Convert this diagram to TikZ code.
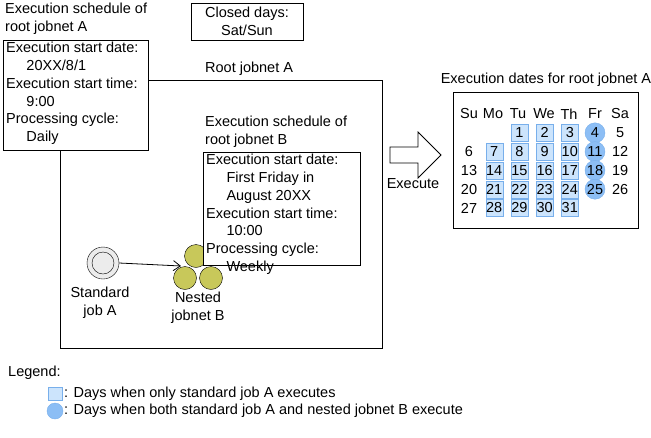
\documentclass[tikz,border=0pt]{standalone}
\usepackage{fontspec}
\setmainfont{Liberation Sans}
\usetikzlibrary{arrows.meta}
\definecolor{sq}{RGB}{204,228,252}
\definecolor{sqd}{RGB}{120,175,235}
\definecolor{ci}{RGB}{140,190,245}
\definecolor{yel}{RGB}{200,200,90}
\begin{document}
\begin{tikzpicture}[x=1pt,y=-1pt,
  txt/.style={font=\fontsize{14.5}{17.8}\selectfont,inner sep=0pt,align=left},
  box/.style={draw,fill=white,line width=0.8pt},
  day/.style={font=\fontsize{14.5}{16}\selectfont,inner sep=0pt},
  sqr/.style={draw=sqd,fill=sq,minimum width=17pt,minimum height=17pt,inner sep=0pt,font=\fontsize{14.5}{16}\selectfont},
  crc/.style={circle,draw=sqd,fill=ci,minimum size=20pt,inner sep=0pt,font=\fontsize{14.5}{16}\selectfont},
  jb/.style={circle,draw,fill=yel,minimum size=23pt,inner sep=0pt}]
\useasboundingbox (0,0) rectangle (651,437);
% schedule A
\node[txt,anchor=north west] (tA) at (5,3) {Execution schedule of\\root jobnet A};
\draw[box] (3,40) rectangle (148,150);
\node[txt,anchor=north west] (sA) at (6,42) {Execution start date:\\\hspace*{1.4em}20XX/8/1\\Execution start time:\\\hspace*{1.4em}9:00\\Processing cycle:\\\hspace*{1.4em}Daily};
% closed days
\draw[box] (191,3) rectangle (303,40);
\node[txt,align=center] (cd) at (247,21) {Closed days:\\Sat/Sun};
% root jobnet A
\node[txt,anchor=south west] (rA) at (205,76) {Root jobnet A};
\draw[line width=0.8pt] (60,150) -- (60,348) -- (382,348) -- (382,80) -- (148,80);
% jobs
\node[circle,draw,fill=gray!15,minimum size=32pt,inner sep=0pt] (ja) at (103,263) {};
\node[circle,draw,minimum size=22pt,inner sep=0pt] at (ja) {};
\node[txt,align=center,anchor=north] (jal) at (100,287) {Standard\\job A};
\node[jb] (b1) at (196,256) {};
\node[jb] (b2) at (185,278) {};
\node[jb] (b3) at (211,278) {};
\coordinate (ae) at (181,266);
\draw[line width=0.8pt,-{Straight Barb[length=7pt,width=10pt]}] (ja.east) -- (ae);
\node[txt,align=center,anchor=north] (jbl) at (198,292) {Nested\\jobnet B};
% schedule B
\node[txt,anchor=north west] (tB) at (205,116) {Execution schedule of\\root jobnet B};
\draw[box] (203,152) rectangle (360,265);
\node[txt,anchor=north west] (sB) at (206,154) {Execution start date:\\\hspace*{1.4em}First Friday in\\\hspace*{1.4em}August 20XX\\Execution start time:\\\hspace*{1.4em}10:00\\Processing cycle:\\\hspace*{1.4em}Weekly};
% execute arrow
\draw[line width=0.8pt,fill=white] (390,147) -- (418,147) -- (418,132) -- (441,155) -- (418,178) -- (418,163) -- (390,163) -- cycle;
\node[txt] (ex) at (413,184) {Execute};
% calendar
\node[txt,anchor=south] (cal) at (546,87) {Execution dates for root jobnet A};
\draw[line width=0.8pt] (453,92) rectangle (638,228);
\foreach \n/\x in {Su/469,Mo/493,Tu/518,We/544,Th/569,Fr/595,Sa/620}
  \node[day] at (\x,114) {\n};
\foreach \d/\c/\r in {5/6/1,6/0/2,12/6/2,13/0/3,19/6/3,20/0/4,26/6/4,27/0/5}
  \node[day] at ({469+\c*25.2},{114+\r*18.8}) {\d};
\foreach \d/\c/\r in {1/2/1,2/3/1,3/4/1,7/1/2,8/2/2,9/3/2,10/4/2,14/1/3,15/2/3,16/3/3,17/4/3,21/1/4,22/2/4,23/3/4,24/4/4,28/1/5,29/2/5,30/3/5,31/4/5}
  \node[sqr] at ({469+\c*25.2},{114+\r*18.8}) {\d};
\foreach \d/\r in {4/1,11/2,18/3,25/4}
  \node[crc] at (595,{114+\r*18.8}) {\d};
% legend
\node[txt,anchor=north west] (lg) at (8,366) {Legend:};
\draw[draw=sqd,fill=sq] (48,387) rectangle (62,400);
\node[txt,anchor=west] (l1) at (64,394) {: Days when only standard job A executes};
\draw[draw=sqd,fill=ci] (55,411) circle (8);
\node[txt,anchor=west] (l2) at (64,411) {: Days when both standard job A and nested jobnet B execute};
\end{tikzpicture}
\end{document}
